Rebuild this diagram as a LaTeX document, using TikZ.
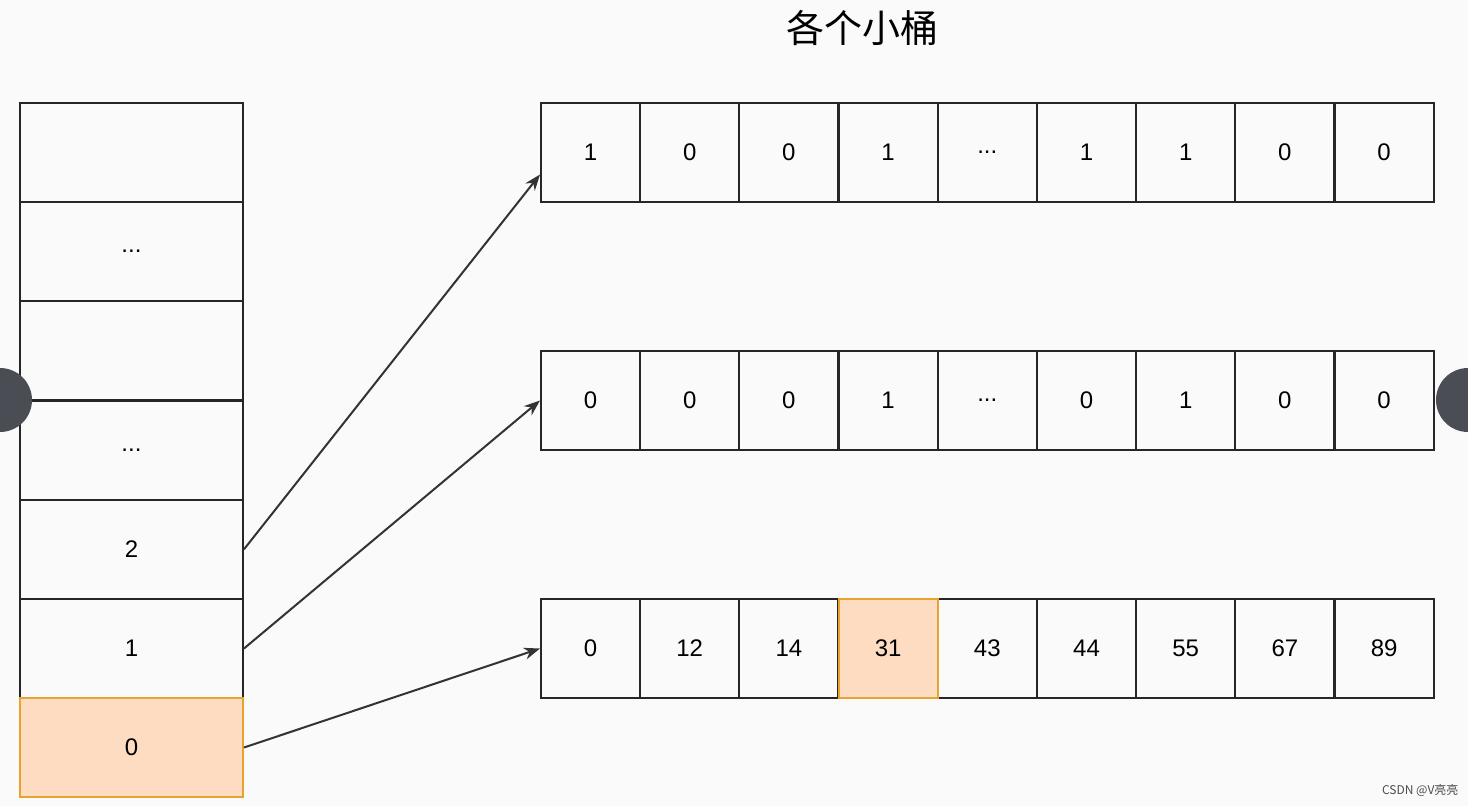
\documentclass[tikz,border=0pt]{standalone}
\usepackage{fontspec}
\setmainfont{Liberation Sans}
\newfontfamily\cjk{Noto Sans CJK SC}
\usetikzlibrary{arrows.meta}
\def\dd{...}
\definecolor{edge}{HTML}{4A4E54}
\definecolor{hlfill}{HTML}{FDDCC1}
\definecolor{hldraw}{HTML}{E8A22E}
\begin{document}
\begin{tikzpicture}[x=1pt,y=-1pt,
  cell/.style={draw=black!85,line width=2pt,minimum width=99pt,minimum height=99pt,inner sep=0pt,font=\fontsize{24}{28}\selectfont,anchor=north west},
  lcell/.style={draw=black!85,line width=2pt,minimum width=223pt,minimum height=99pt,inner sep=0pt,font=\fontsize{24}{28}\selectfont,anchor=north west},
  hl/.style={fill=hlfill,draw=hldraw},
  arr/.style={-{Stealth[length=16pt,width=12pt]},line width=2pt,draw=black!80}]
\fill[black!2] (0,0) rectangle (1468,806);
\useasboundingbox (0,0) rectangle (1468,806);
\node[font=\cjk\fontsize{38}{42}\selectfont] (title) at (862,28) {各个小桶};
\foreach \t [count=\i from 0] in {{},\dd,{},\dd,2,1} {
  \node[lcell] (L\i) at (19,{102+99.2*\i}) {\t};
}
\node[lcell,hl] (L6) at (19,697) {0};
\foreach \t [count=\i from 0] in {1,0,0,1,\dd,1,1,0,0} {
  \node[cell] (A\i) at ({540+99.2*\i},102) {\t};
}
\foreach \t [count=\i from 0] in {0,0,0,1,\dd,0,1,0,0} {
  \node[cell] (B\i) at ({540+99.2*\i},350) {\t};
}
\foreach \t [count=\i from 0] in {0,12,14,31,43,44,55,67,89} {
  \node[cell] (C\i) at ({540+99.2*\i},598) {\t};
}
\node[cell,hl] at (C3.north west) {31};
\draw[arr] (L4.east) -- ([yshift=-22pt]A0.west);
\draw[arr] (L5.east) -- (B0.west);
\draw[arr] (L6.east) -- (C0.west);
\fill[edge] (0,400) circle (32);
\fill[edge] (1468,400) circle (32);
\node[font=\cjk\fontsize{12}{14}\selectfont,text=black!70,anchor=east] (wm) at (1462,790) {CSDN @V亮亮};
\end{tikzpicture}
\end{document}
